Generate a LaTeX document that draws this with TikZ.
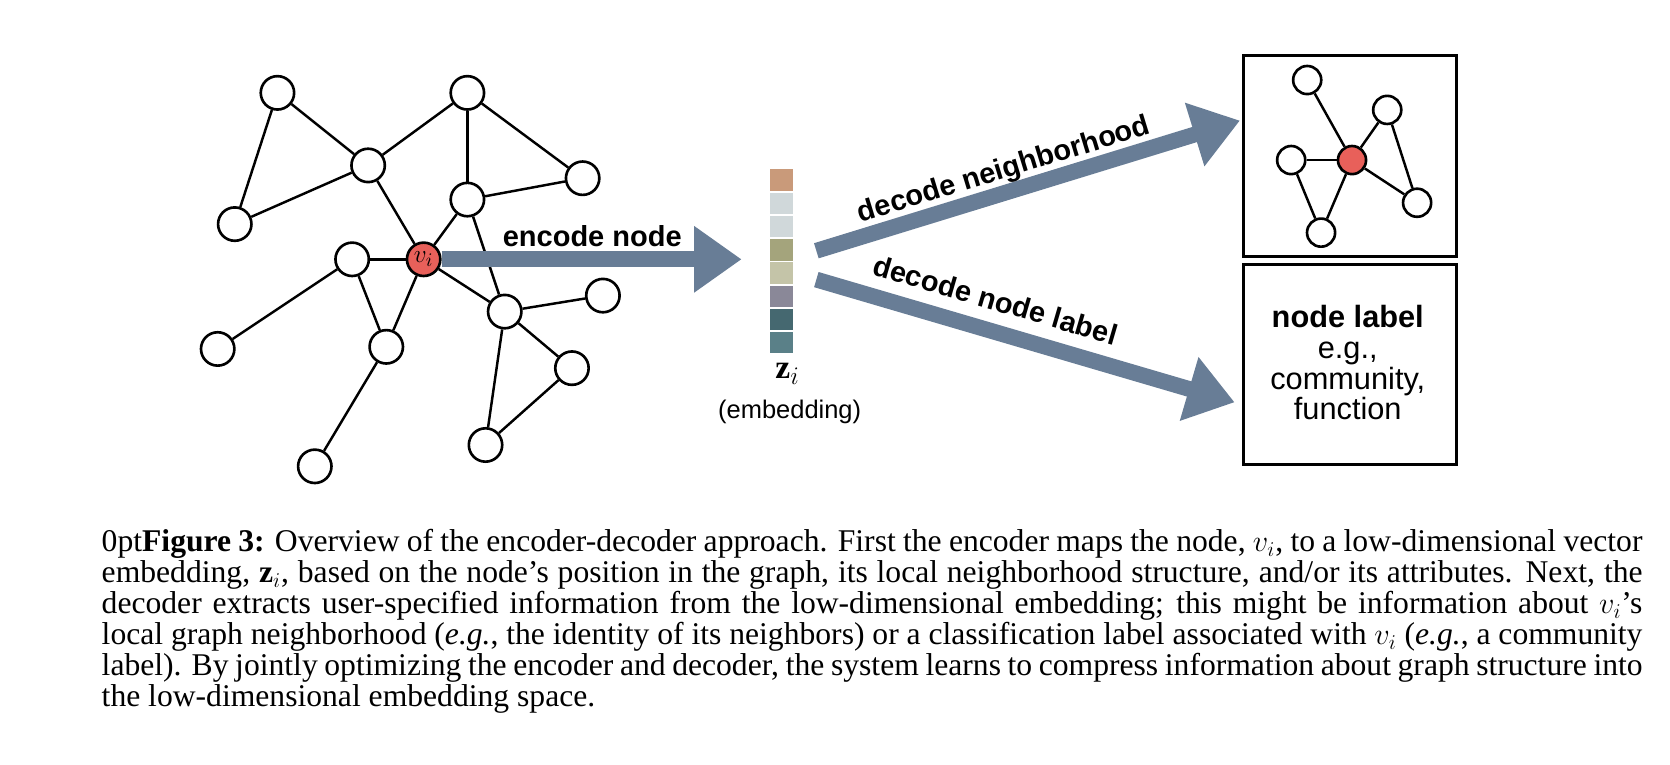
\documentclass[tikz,border=0pt]{standalone}
\usepackage{fontspec}
\usepackage{amsmath}
\setmainfont{Liberation Serif}
\newfontfamily\sansf{Liberation Sans}
\usetikzlibrary{arrows.meta,positioning,backgrounds}
\definecolor{arrowblue}{HTML}{687D96}
\definecolor{nodered}{HTML}{E8605A}
\definecolor{embA}{HTML}{C99A7A}
\definecolor{embB}{HTML}{D0D8DA}
\definecolor{embC}{HTML}{A4A47C}
\definecolor{embD}{HTML}{C4C4A8}
\definecolor{embE}{HTML}{8A8898}
\definecolor{embF}{HTML}{456870}
\definecolor{embG}{HTML}{5A8088}
\tikzset{
  vert/.style={circle, draw, line width=1.5pt, fill=white, minimum size=19pt, inner sep=0pt},
  svert/.style={vert, minimum size=16pt},
  edge/.style={line width=1.4pt},
  bigarrow/.style={draw=arrowblue, line width=9pt, -{Triangle[length=27pt,width=36pt]}},
  frame/.style={draw, line width=1.8pt},
  boldlbl/.style={font=\sansf\bfseries\fontsize{16.5}{19}\selectfont}
}
\begin{document}
\begin{tikzpicture}[x=0.02134cm, y=-0.02134cm]
                \useasboundingbox (0,0) rectangle (1565,716);
                % input graph
                \node [vert] (a) at (260,87) {};
                \node [vert] (b) at (438,87) {};
                \node [vert] (c) at (345,155) {};
                \node [vert] (d) at (220,210) {};
                \node [vert] (e) at (546,167) {};
                \node [vert] (f) at (438,187) {};
                \node [vert] (g) at (330,243) {};
                \node [vert, fill=nodered, font=\fontsize{15}{15}\selectfont] (vi) at (397,243) {$v_i$};
                \node [vert] (h) at (565,277) {};
                \node [vert] (k) at (204,327) {};
                \node [vert] (m) at (473,292) {};
                \node [vert] (n) at (362,325) {};
                \node [vert] (o) at (536,345) {};
                \node [vert] (p) at (295,437) {};
                \node [vert] (q) at (455,417) {};
                \begin{pgfonlayer}{background}
                \draw [edge] (a) -- (c);
                \draw [edge] (a) -- (d);
                \draw [edge] (c) -- (d);
                \draw [edge] (c) -- (b);
                \draw [edge] (b) -- (f);
                \draw [edge] (b) -- (e);
                \draw [edge] (f) -- (e);
                \draw [edge] (c) -- (vi);
                \draw [edge] (f) -- (vi);
                \draw [edge] (f) -- (m);
                \draw [edge] (g) -- (vi);
                \draw [edge] (g) -- (k);
                \draw [edge] (g) -- (n);
                \draw [edge] (vi) -- (n);
                \draw [edge] (vi) -- (m);
                \draw [edge] (m) -- (h);
                \draw [edge] (m) -- (o);
                \draw [edge] (m) -- (q);
                \draw [edge] (o) -- (q);
                \draw [edge] (n) -- (p);
                \end{pgfonlayer}
                % encoder
                \coordinate (enctip) at (695,243);
                \draw [bigarrow] (vi.east) -- (enctip);
                \node [boldlbl] (enc) at (555,221) {encode node};
                % embedding
                \foreach \col [count=\i from 0] in {embA,embB,embB,embC,embD,embE,embF,embG}
                    \fill [\col] (722,158+21.75*\i+0.8) rectangle (743,158+21.75*\i+21);
                \node [font=\fontsize{19}{20}\selectfont] (zi) at (738,350) {$\mathbf{z}_i$};
                \node [font=\sansf\fontsize{14.5}{16}\selectfont] (emb) at (740,386) {(embedding)};
                % decoders
                \coordinate (d1s) at (765,235);
                \coordinate (d1t) at (1162,113);
                \coordinate (d2s) at (765,262);
                \coordinate (d2t) at (1157,377);
                \draw [bigarrow] (d1s) -- (d1t);
                \draw [bigarrow] (d2s) -- (d2t);
                \node [boldlbl, rotate=17] (dn) at (941,160) {decode neighborhood};
                \node [boldlbl, rotate=-16.3] (dl) at (933,281) {decode node label};
                % output boxes
                \draw [frame] (1165,52) rectangle (1365,240);
                \draw [frame] (1165,248) rectangle (1365,435);
                \node [svert, fill=nodered] (r) at (1267,150) {};
                \node [svert] (r1) at (1225,75) {};
                \node [svert] (r2) at (1300,103) {};
                \node [svert] (r3) at (1210,150) {};
                \node [svert] (r4) at (1328,190) {};
                \node [svert] (r5) at (1238,218) {};
                \begin{pgfonlayer}{background}
                \draw [edge] (r1) -- (r);
                \draw [edge] (r) -- (r2);
                \draw [edge] (r2) -- (r4);
                \draw [edge] (r) -- (r4);
                \draw [edge] (r) -- (r3);
                \draw [edge] (r3) -- (r5);
                \draw [edge] (r) -- (r5);
                \end{pgfonlayer}
                \node [align=center, font=\sansf\fontsize{17.5}{17.5}\selectfont] (lbl) at (1263,340)
                    {\textbf{node label}\\e.g.,\\community,\\function};
                % caption
                \node [anchor=north west, text width=877pt, align=justify, inner sep=0pt,
                       font=\fontsize{18}{17.6}\selectfont\hyphenpenalty=10000] (cap) at (95,496)
                    {\textbf{Figure 3:} Overview of the encoder-decoder approach. First the encoder maps the node, $v_i$, to a low-dimensional vector embedding, $\mathbf{z}_i$, based on the node's position in the graph, its local neighborhood structure, and/or its attributes. Next, the decoder extracts user-specified information from the low-dimensional embedding; this might be information about $v_i$'s local graph neighborhood (\textit{e.g.}, the identity of its neighbors) or a classification label associated with $v_i$ (\textit{e.g.}, a community label). By jointly optimizing the encoder and decoder, the system learns to compress information about graph structure into the low-dimensional embedding space.};
            \end{tikzpicture}
\end{document}
